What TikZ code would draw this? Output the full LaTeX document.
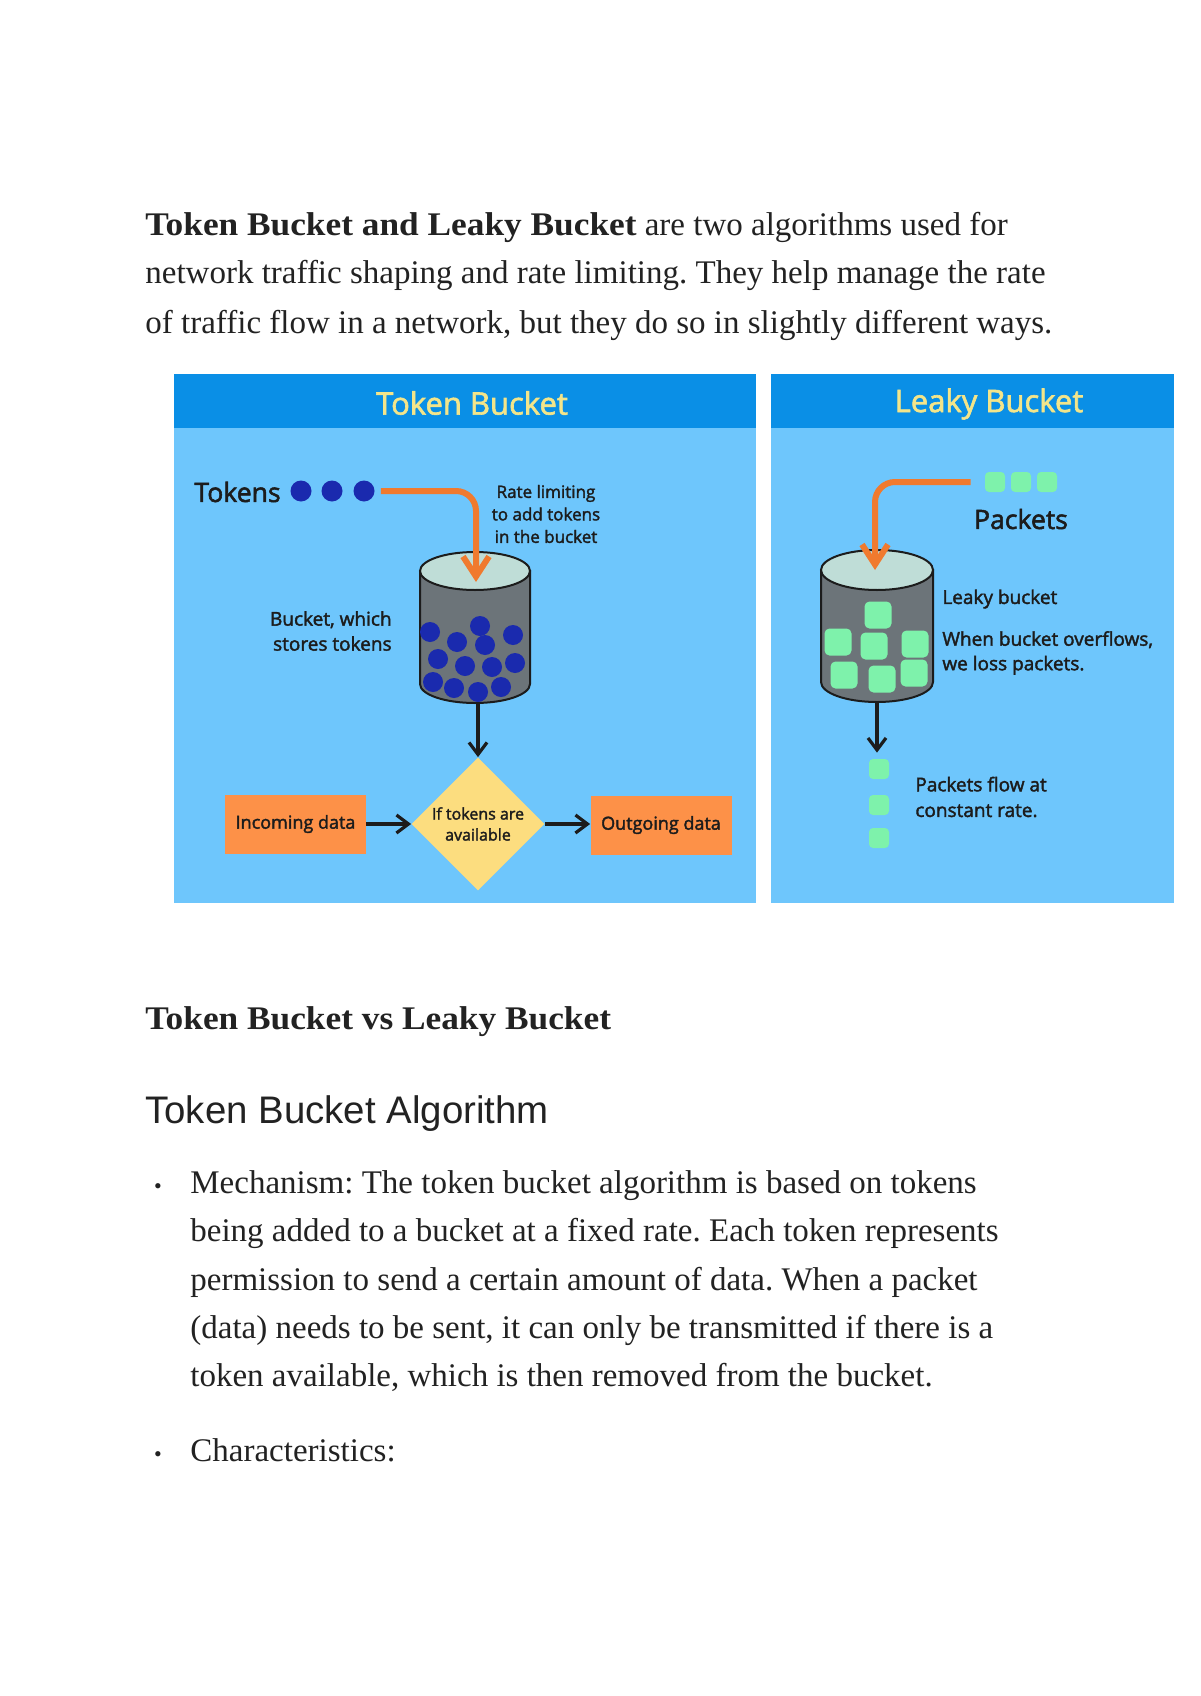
\documentclass[tikz,border=0pt]{standalone}
\usepackage{fontspec}
\setmainfont{Liberation Serif}[BoldFeatures={FakeStretch=1.07}]
\newfontfamily\dgfont[FakeBold=2]{Open Sans}
\newfontfamily\headfont{Liberation Sans}
\usetikzlibrary{arrows.meta,shapes.geometric}
\definecolor{hdrblue}{HTML}{0A8FE6}
\definecolor{panelblue}{HTML}{6EC6FC}
\definecolor{titleyel}{HTML}{F3E58A}
\definecolor{tokblue}{HTML}{1A2AAE}
\definecolor{cylgrey}{HTML}{6C7479}
\definecolor{cyltop}{HTML}{BFDDD7}
\definecolor{pktgreen}{HTML}{7EF2AB}
\definecolor{boxorange}{HTML}{FD9148}
\definecolor{diayel}{HTML}{FCDD7F}
\definecolor{arrorange}{HTML}{F07A2E}
\definecolor{ink}{HTML}{1C1C1C}
\definecolor{bodyink}{HTML}{222222}
\frenchspacing
\begin{document}
\begin{tikzpicture}[x=0.5pt,y=-0.5pt,
    body/.style={anchor=base west,inner sep=0pt,text=bodyink,font=\fontsize{16.5}{19}\selectfont},
    lbl/.style={inner sep=0pt,text=ink,font=\dgfont\fontsize{9.5}{12.5}\selectfont},
    title/.style={inner sep=0pt,text=titleyel,font=\dgfont\fontsize{15.5}{18}\selectfont},
    databox/.style={lbl,fill=boxorange,minimum width=70.5pt,minimum height=29.5pt,font=\dgfont\fontsize{9}{11}\selectfont},
    tokdot/.style={circle,fill=tokblue,minimum size=10.5pt,inner sep=0pt},
    pkt/.style={fill=pktgreen,rounded corners=2pt,minimum size=10pt,inner sep=0pt},
    flow/.style={ink,line width=1.6pt,-{Straight Barb[length=6pt,width=9pt]}},
    feed/.style={arrorange,line width=3pt,rounded corners=10pt,-{Straight Barb[length=10pt,width=13pt]}}]
    \useasboundingbox (0,0) rectangle (1200,1696);
    \fill[white] (0,0) rectangle (1200,1696);
    % intro
    \node[body] (intro1) at (145,235) {\textbf{Token Bucket and Leaky Bucket} are two algorithms used for};
    \node[body] (intro2) at (145,284) {network traffic shaping and rate limiting. They help manage the rate};
    \node[body] (intro3) at (145,333) {of traffic flow in a network, but they do so in slightly different ways.};
    % panels
    \fill[panelblue] (174,374) rectangle (756,903);
    \fill[hdrblue] (174,374) rectangle (756,428);
    \fill[panelblue] (771,374) rectangle (1174,903);
    \fill[hdrblue] (771,374) rectangle (1174,428);
    \node[title] (tbtitle) at (472,403) {Token Bucket};
    \node[title] (lbtitle) at (989,404) {Leaky Bucket};
    % token bucket
    \node[lbl,anchor=west,font=\dgfont\fontsize{13.3}{15}\selectfont] (tokens) at (194,492) {Tokens};
    \foreach \i/\x in {1/301,2/332,3/364} \node[tokdot] (tok\i) at (\x,491) {};
    \coordinate (tbin) at (476,582);
    \fill[cylgrey,draw=ink,line width=1pt] (420,571) -- (420,684) arc[start angle=180,end angle=0,x radius=55,y radius=19] -- (530,571) -- cycle;
    \filldraw[fill=cyltop,draw=ink,line width=1pt] (475,571) ellipse [x radius=55,y radius=19];
    \draw[feed] ([xshift=3pt]tok3.east) -| (tbin);
    \foreach \x/\y in {430/632,480/626,513/635,457/642,485/645,438/659,465/666,492/667,515/663,433/682,454/688,478/692,501/687}
      \fill[tokblue] (\x,\y) circle[radius=10];
    \coordinate (tbout) at (478,703);
    \node[lbl,anchor=east,align=right] (bktlbl) at (392,631) {Bucket, which\\stores tokens};
    \node[lbl,align=center,font=\dgfont\fontsize{8.5}{11.25}\selectfont] (ratelbl) at (546,514) {Rate limiting\\to add tokens\\in the bucket};
    \node[diamond,aspect=1,fill=diayel,minimum size=66.5pt,lbl,align=center,font=\dgfont\fontsize{8}{10.5}\selectfont] (check) at (478,824) {If tokens are\\available};
    \node[databox] (incoming) at (295.5,824) {Incoming data};
    \node[databox] (outgoing) at (661,825) {Outgoing data};
    \draw[flow] (tbout) -- (check.north);
    \draw[flow] (incoming.east) -- (check.west);
    \draw[flow] (check.east) -- (check.east -| outgoing.west);
    % leaky bucket
    \foreach \i/\x in {1/995,2/1021,3/1047} \node[pkt] (pk\i) at (\x,482) {};
    \node[lbl,font=\dgfont\fontsize{13.3}{15}\selectfont] (packets) at (1021,519) {Packets};
    \coordinate (lbin) at (875,570);
    \fill[cylgrey,draw=ink,line width=1pt] (821,570) -- (821,682) arc[start angle=180,end angle=0,x radius=56,y radius=20] -- (933,570) -- cycle;
    \filldraw[fill=cyltop,draw=ink,line width=1pt] (877,570) ellipse [x radius=56,y radius=20];
    \draw[feed] ([xshift=-7pt]pk1.west) -| (lbin);
    \foreach \x/\y in {878/615,838/642,874/646,915/644,844/675,882/679,914/673}
      \node[pkt,minimum size=13.5pt,rounded corners=2.5pt] at (\x,\y) {};
    \coordinate (lbout) at (877,702);
    \foreach \i/\y in {1/769,2/805,3/838} \node[pkt] (out\i) at (879,\y) {};
    \draw[flow,shorten >=3pt] (lbout) -- (lbout |- out1.north);
    \node[lbl,anchor=west] (leakylbl) at (942,599) {Leaky bucket};
    \node[lbl,anchor=west,align=left,font=\dgfont\fontsize{9.5}{12.25}\selectfont] (overlbl) at (942,653) {When bucket overflows,\\we loss packets.};
    \node[lbl,anchor=west,align=left,font=\dgfont\fontsize{9.5}{12.8}\selectfont] (flowlbl) at (915,797) {Packets flow at\\constant rate.};
    % lower text
    \node[body,font=\bfseries\fontsize{16.5}{19}\selectfont] (vshead) at (145,1029) {Token Bucket vs Leaky Bucket};
    \node[body,font=\headfont\fontsize{19.2}{22}\selectfont] (algohead) at (145,1123) {Token Bucket Algorithm};
    \foreach \y in {1193,1461} \node[body,anchor=base,font=\fontsize{11}{12}\selectfont] (bul\y) at (158,\y) {\textbullet};
    \foreach \y/\t in {1193/{Mechanism: The token bucket algorithm is based on tokens},
        1241/{being added to a bucket at a fixed rate. Each token represents},
        1290/{permission to send a certain amount of data. When a packet},
        1338/{(data) needs to be sent, it can only be transmitted if there is a},
        1386/{token available, which is then removed from the bucket.},
        1461/{Characteristics:}}
      \node[body] (mech\y) at (190,\y) {\t};
\end{tikzpicture}
\end{document}
